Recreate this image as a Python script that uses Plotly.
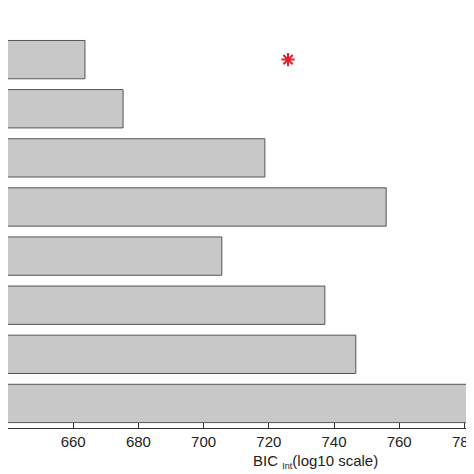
import plotly.graph_objects as go

models = ['m1', 'm2', 'm3', 'm4', 'm5', 'm6', 'm7', 'm8']
bic_values = [663.6, 675.3, 718.8, 756.0, 705.6, 737.2, 746.7, 790.0]
best_model = 'm1'
best_bic = 725.9
x_ticks = [640, 660, 680, 700, 720, 740, 760, 780]

base = 600
fig = go.Figure()
fig.add_trace(go.Bar(
    y=models, x=[v - base for v in bic_values], base=base, orientation='h', width=0.78,
    marker={'color': '#c8c8c8', 'line': {'color': '#555555', 'width': 1}},
))
fig.add_trace(go.Scatter(
    x=[best_bic], y=[best_model], mode='markers',
    marker={'symbol': 'asterisk', 'size': 11, 'color': '#e0202a', 'line': {'color': '#e0202a', 'width': 2}},
))

fig.update_layout(
    width=474, height=474,
    margin={'l': 0, 'r': 0, 't': 25, 'b': 54},
    plot_bgcolor='white', paper_bgcolor='white',
    showlegend=False,
    font={'family': 'Liberation Sans, Arial', 'size': 15, 'color': '#222222'},
    xaxis={'range': [640, 785.4], 'tickvals': x_ticks, 'ticks': 'inside', 'ticklen': 5,
           'tickcolor': '#333333', 'showline': True, 'linecolor': '#333333', 'linewidth': 1,
           'showgrid': False, 'zeroline': False, 'automargin': False},
    yaxis={'autorange': 'reversed', 'showticklabels': False, 'automargin': False,
           'showgrid': False, 'zeroline': False, 'showline': False},
    annotations=[{'text': 'BIC <span style="font-size:13px"><sub>Int</sub></span>(log10 scale)',
                  'x': 307 / 474, 'xref': 'paper',
                  'y': -0.085, 'yref': 'paper', 'showarrow': False, 'font': {'size': 15},
                  'yanchor': 'middle'}],
)
fig.write_html('out.html')
